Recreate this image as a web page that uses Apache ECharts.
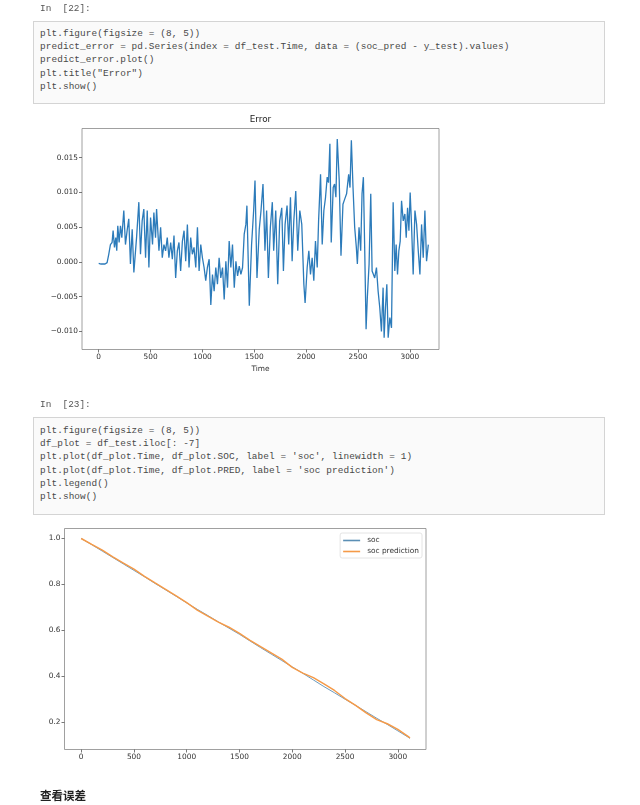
<!DOCTYPE html>
<html>
<head>
<meta charset="utf-8">
<script src="https://cdn.jsdelivr.net/npm/echarts@6/dist/echarts.min.js"></script>
<style>
  html, body { margin: 0; padding: 0; background: #fff; }
  #page { position: relative; width: 640px; height: 805px; overflow: hidden; }
  #chart { position: absolute; left: 0; top: 0; width: 640px; height: 805px; }
  .prompt { position: absolute; left: 40px; font-family: "Liberation Mono", monospace; font-size: 9.4px; color: #555; }
  .cell { position: absolute; left: 33px; width: 572px; border: 1px solid #d4d4d4; background: #fafafa; box-sizing: border-box; }
  .cell pre { margin: 0; position: absolute; left: 6px; font-family: "Liberation Mono", monospace; font-size: 9.4px; line-height: 13.2px; color: #484848; letter-spacing: 0.1px; }
  .md { position: absolute; left: 40px; top: 787px; font-family: "Noto Sans CJK SC", sans-serif; font-size: 11.5px; font-weight: bold; color: #222; }
</style>
</head>
<body>
<div id="page">
  <div id="chart"></div>
  <div class="prompt" style="top:3px;">In&nbsp;&nbsp;[22]:</div>
  <div class="cell" style="top:21px; height:83px;">
<pre style="top:5px;">plt.figure(figsize = (8, 5))
predict_error = pd.Series(index = df_test.Time, data = (soc_pred - y_test).values)
predict_error.plot()
plt.title("Error")
plt.show()</pre>
  </div>
  <div class="prompt" style="top:399px;">In&nbsp;&nbsp;[23]:</div>
  <div class="cell" style="top:417px; height:98px;">
<pre style="top:6px;">plt.figure(figsize = (8, 5))
df_plot = df_test.iloc[: -7]
plt.plot(df_plot.Time, df_plot.SOC, label = 'soc', linewidth = 1)
plt.plot(df_plot.Time, df_plot.PRED, label = 'soc prediction')
plt.legend()
plt.show()</pre>
  </div>
  <div class="md">查看误差</div>
</div>
<script>
// ---- Chart 1: prediction error ----
const errTime = [0,23,42,61,81,97,113,129,139,152,165,174,184,197,210,223,242,258,274,290,306,323,339,365,387,403,419,435,452,468,484,500,519,532,548,558,581,597,613,629,645,661,677,694,710,726,742,758,774,790,807,823,839,855,871,887,903,919,936,952,968,984,1000,1016,1032,1048,1065,1081,1097,1113,1129,1145,1161,1177,1194,1210,1226,1242,1258,1274,1290,1307,1323,1339,1355,1371,1387,1403,1419,1429,1452,1474,1494,1507,1526,1548,1565,1584,1603,1619,1636,1655,1674,1687,1707,1726,1745,1765,1781,1797,1816,1832,1849,1865,1881,1900,1919,1939,1958,1978,1990,2010,2026,2042,2058,2074,2090,2107,2120,2139,2155,2171,2187,2203,2216,2229,2242,2261,2274,2287,2300,2319,2336,2355,2371,2390,2410,2423,2436,2452,2468,2484,2494,2510,2526,2539,2552,2565,2578,2590,2607,2623,2636,2649,2661,2678,2694,2710,2726,2742,2752,2765,2778,2791,2807,2823,2839,2855,2868,2881,2894,2907,2920,2936,2952,2965,2978,2991,3003,3016,3032,3049,3065,3081,3097,3113,3129,3145,3161,3178];
const errValue = [-0.0002,-0.0003,-0.0001,-0.0003,-0.0001,0.0011,0.0025,0.0028,0.0045,0.0021,0.0035,0.0016,0.0052,0.0028,0.0052,0.0035,0.0074,0.0025,0.0045,0.0062,-0.0003,0.0047,-0.0015,0.0035,0.0086,0.0011,0.0059,0.0076,0.0006,0.0074,-0.0008,0.0064,0.0025,0.0071,0.0035,0.0076,0.0016,0.0050,0.0006,0.0025,0.0016,0.0035,0.0006,0.0028,0.0004,0.0038,-0.0023,0.0016,0.0028,-0.0013,0.0030,0.0045,0.0001,0.0054,-0.0008,0.0035,0.0011,0.0021,-0.0008,0.0050,-0.0013,0.0025,0.0006,-0.0008,-0.0027,-0.0008,0.0004,-0.0062,-0.0018,-0.0042,-0.0008,-0.0032,0.0006,-0.0023,-0.0008,-0.0054,0.0001,-0.0037,0.0030,-0.0008,0.0025,-0.0037,0.0001,-0.0020,-0.0006,-0.0018,-0.0008,0.0040,0.0054,0.0081,-0.0063,0.0025,0.0074,0.0117,-0.0023,0.0047,0.0074,0.0112,0.0016,0.0074,-0.0023,0.0050,0.0086,0.0016,0.0074,-0.0032,0.0059,0.0078,-0.0013,0.0054,0.0081,0.0025,0.0093,0.0001,0.0059,0.0102,0.0016,0.0074,0.0054,-0.0032,-0.0059,-0.0008,0.0016,-0.0018,0.0006,-0.0027,0.0030,-0.0008,0.0059,0.0126,0.0025,0.0074,0.0093,0.0122,0.0114,0.0170,0.0028,0.0107,0.0112,0.0093,0.0177,0.0117,0.0009,0.0083,0.0090,0.0098,0.0126,0.0107,0.0175,0.0107,0.0050,0.0021,-0.0003,0.0050,0.0016,0.0098,0.0122,0.0016,-0.0097,-0.0051,-0.0003,0.0098,-0.0013,-0.0018,-0.0023,-0.0008,-0.0042,-0.0066,-0.0100,-0.0037,-0.0109,-0.0066,-0.0032,-0.0109,-0.0080,-0.0095,0.0086,-0.0013,0.0025,-0.0018,0.0016,0.0030,0.0088,0.0059,0.0069,0.0035,0.0078,0.0045,0.0100,0.0054,-0.0018,0.0074,0.0054,0.0016,-0.0018,0.0054,0.0006,0.0074,0.0001,0.0025];
const errXTicks = [0,500,1000,1500,2000,2500,3000];
const errYTicks = [-0.010,-0.005,0.000,0.005,0.010,0.015];

// ---- Chart 2: soc vs prediction ----
const socTime = [0,100,200,300,400,500,600,700,800,900,1000,1100,1200,1300,1400,1500,1600,1700,1800,1900,2000,2100,2200,2300,2400,2500,2600,2700,2800,2900,3000,3100,3115];
const socValue = [1.000,0.973,0.945,0.917,0.889,0.861,0.833,0.804,0.776,0.748,0.719,0.691,0.664,0.636,0.609,0.582,0.553,0.524,0.496,0.468,0.440,0.412,0.383,0.354,0.327,0.299,0.272,0.244,0.216,0.189,0.161,0.133,0.128];
const predValue = [1.000,0.974,0.949,0.920,0.893,0.866,0.835,0.806,0.778,0.750,0.720,0.688,0.661,0.635,0.613,0.586,0.556,0.528,0.501,0.474,0.438,0.413,0.393,0.366,0.337,0.302,0.272,0.239,0.210,0.192,0.167,0.136,0.130];
const socXTicks = [0,500,1000,1500,2000,2500,3000];
const socYTicks = [0.2,0.4,0.6,0.8,1.0];

const zip = (a, b) => a.map((v, i) => [v, b[i]]);
const fmtErr = v => v.toFixed(3).replace('-', '\u2212');
const fmtInt = v => String(Math.round(v));
const LBL = { fontFamily: 'DejaVu Sans', fontSize: 7.4, color: '#333' };
const TICK = { show: true, length: 3, lineStyle: { color: '#555', width: 0.8 } };
const NOLINE = { show: false, onZero: false };

const chart = echarts.init(document.getElementById('chart'), null, { renderer: 'canvas' });
chart.setOption({
  backgroundColor: '#fff',
  animation: false,
  graphic: [
    { type: 'text', x: 260.5, y: 120, style: { text: 'Error', fontFamily: 'DejaVu Sans', fontSize: 8.8, fill: '#222', textAlign: 'center', textVerticalAlign: 'middle' } }
  ],
  grid: [
    { left: 82, top: 128.5, width: 357, height: 221, show: true, borderColor: '#888', borderWidth: 0.8, backgroundColor: 'transparent' },
    { left: 64.5, top: 528.5, width: 361.5, height: 221, show: true, borderColor: '#888', borderWidth: 0.8, backgroundColor: 'transparent' }
  ],
  legend: {
    data: ['soc', 'soc prediction'],
    orient: 'vertical',
    right: 218,
    top: 533,
    itemWidth: 17,
    itemHeight: 1.6,
    itemGap: 4,
    padding: [4, 3, 3, 3],
    borderColor: '#ddd',
    borderWidth: 0.8,
    borderRadius: 2,
    backgroundColor: 'rgba(255,255,255,0.85)',
    icon: 'rect',
    textStyle: { fontFamily: 'DejaVu Sans', fontSize: 7.4, color: '#333', padding: [0, 0, 0, 2] }
  },
  xAxis: [
    { type: 'value', gridIndex: 0, min: -161, max: 3281,
      name: 'Time', nameLocation: 'middle', nameGap: 16, nameTextStyle: LBL,
      splitLine: { show: false }, axisLine: NOLINE,
      axisTick: Object.assign({ customValues: errXTicks }, TICK),
      axisLabel: Object.assign({ margin: 4, customValues: errXTicks, formatter: fmtInt }, LBL) },
    { type: 'value', gridIndex: 1, min: -158, max: 3267,
      splitLine: { show: false }, axisLine: NOLINE,
      axisTick: Object.assign({ customValues: socXTicks }, TICK),
      axisLabel: Object.assign({ margin: 4, customValues: socXTicks, formatter: fmtInt }, LBL) }
  ],
  yAxis: [
    { type: 'value', gridIndex: 0, min: -0.0126, max: 0.0192,
      splitLine: { show: false }, axisLine: NOLINE,
      axisTick: Object.assign({ customValues: errYTicks }, TICK),
      axisLabel: Object.assign({ margin: 4, customValues: errYTicks, formatter: fmtErr }, LBL) },
    { type: 'value', gridIndex: 1, min: 0.0796, max: 1.0436,
      splitLine: { show: false }, axisLine: NOLINE,
      axisTick: Object.assign({ customValues: socYTicks }, TICK),
      axisLabel: Object.assign({ margin: 4, customValues: socYTicks, formatter: v => v.toFixed(1) }, LBL) }
  ],
  series: [
    { name: 'error', type: 'line', xAxisIndex: 0, yAxisIndex: 0, data: zip(errTime, errValue),
      showSymbol: false, lineStyle: { width: 1.3, color: '#2c7bba' }, itemStyle: { color: '#2c7bba' } },
    { name: 'soc', type: 'line', xAxisIndex: 1, yAxisIndex: 1, data: zip(socTime, socValue),
      showSymbol: false, lineStyle: { width: 0.9, color: '#5b8fb5' }, itemStyle: { color: '#5b8fb5' } },
    { name: 'soc prediction', type: 'line', xAxisIndex: 1, yAxisIndex: 1, data: zip(socTime, predValue),
      showSymbol: false, lineStyle: { width: 1.5, color: '#f59a48' }, itemStyle: { color: '#f59a48' } }
  ]
});
</script>
</body>
</html>
